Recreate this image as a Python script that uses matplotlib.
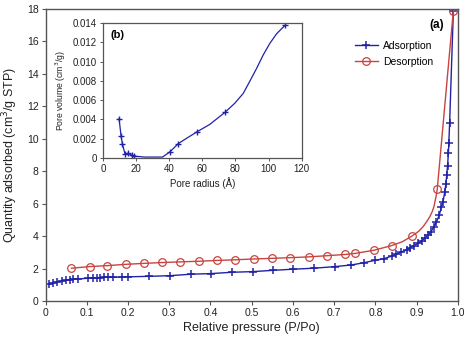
import matplotlib
matplotlib.use("Agg")
import matplotlib.pyplot as plt
import numpy as np

plt.rcParams['font.family'] = ['Liberation Sans', 'DejaVu Sans']

# Adsorption branch (relative pressure, quantity adsorbed)
ads_p = [0.009, 0.019, 0.029, 0.039, 0.049, 0.059, 0.067, 0.080, 0.102, 0.116,
         0.124, 0.132, 0.142, 0.152, 0.163, 0.185, 0.200, 0.252, 0.302, 0.352,
         0.402, 0.452, 0.502, 0.552, 0.601, 0.651, 0.702, 0.742, 0.772, 0.800,
         0.821, 0.841, 0.851, 0.863, 0.876, 0.885, 0.893, 0.904, 0.912, 0.920,
         0.928, 0.935, 0.942, 0.948, 0.955, 0.960, 0.964, 0.968, 0.971, 0.973,
         0.975, 0.977, 0.978, 0.980, 0.989]
ads_q = [1.03, 1.11, 1.19, 1.23, 1.28, 1.32, 1.35, 1.36, 1.40, 1.42,
         1.44, 1.44, 1.46, 1.46, 1.46, 1.48, 1.49, 1.52, 1.56, 1.65,
         1.69, 1.77, 1.81, 1.89, 1.96, 2.02, 2.12, 2.22, 2.36, 2.51,
         2.61, 2.78, 2.88, 3.02, 3.15, 3.29, 3.40, 3.56, 3.70, 3.87,
         4.07, 4.28, 4.59, 4.86, 5.31, 5.78, 6.13, 6.69, 7.20, 7.78,
         8.35, 9.12, 9.73, 10.97, 17.90]

# Desorption branch: measured points
des_p = [0.063, 0.107, 0.150, 0.195, 0.240, 0.283, 0.327, 0.372, 0.416, 0.460,
         0.505, 0.550, 0.594, 0.638, 0.682, 0.727, 0.750, 0.797, 0.840, 0.888,
         0.950, 0.989]
des_q = [2.02, 2.12, 2.18, 2.26, 2.32, 2.39, 2.39, 2.45, 2.51, 2.53,
         2.59, 2.63, 2.67, 2.73, 2.80, 2.88, 2.94, 3.15, 3.40, 3.99,
         6.89, 17.90]
# Desorption branch: traced fitted curve
des_curve_p = [0.063, 0.107, 0.150, 0.195, 0.240, 0.283, 0.327, 0.372, 0.416,
               0.460, 0.505, 0.550, 0.594, 0.638, 0.682, 0.727, 0.750, 0.797,
               0.840, 0.865, 0.888, 0.905, 0.916, 0.925, 0.932, 0.938, 0.942,
               0.947, 0.950, 0.989]
des_curve_q = [2.02, 2.12, 2.18, 2.26, 2.32, 2.37, 2.41, 2.45, 2.50,
               2.54, 2.59, 2.63, 2.67, 2.72, 2.79, 2.87, 2.93, 3.13,
               3.42, 3.65, 3.99, 4.30, 4.59, 4.92, 5.20, 5.52, 5.82,
               6.44, 6.89, 17.90]

# Pore size distribution: marked points
psd_r = [9.7, 10.9, 11.7, 13.3, 15.3, 17.3, 18.7, 40.5, 45.5, 56.6, 73.7, 110.2]
psd_v = [0.0041, 0.0023, 0.0015, 0.0004, 0.0005, 0.0003, 0.0002,
         0.00065, 0.0015, 0.0027, 0.00474, 0.0138]
# Pore size distribution: traced curve
curve_r = [9.7, 10.9, 11.7, 13.3, 15.3, 17.3, 18.7, 25.0, 36.0, 40.5, 45.5,
           51.0, 56.6, 64.6, 73.7, 79.7, 84.7, 88.8, 92.8, 96.8, 100.8,
           104.9, 107.8, 110.2]
curve_v = [0.0041, 0.0023, 0.0015, 0.0004, 0.0005, 0.0003, 0.0002, 0.0001,
           0.0001, 0.00065, 0.0015, 0.0021, 0.0027, 0.0035, 0.00474, 0.0057,
           0.0067, 0.0080, 0.0093, 0.0107, 0.0119, 0.0129, 0.0134, 0.0138]

blue = '#2222a6'
red = '#c84440'
spine_c = '#555555'
text_c = '#222222'

fig = plt.figure(figsize=(4.74, 3.38), dpi=100)
ax = fig.add_axes([0.096, 0.1095, 0.870, 0.864])

ax.plot(ads_p, ads_q, color=blue, lw=1.0, marker='+', ms=6, mew=1.1,
        label='Adsorption')
ax.plot(des_curve_p, des_curve_q, color=red, lw=1.0)
ax.plot(des_p, des_q, ls='none', marker='o', ms=5.5, mfc='none',
        mec=red, mew=0.9)
# legend proxy for the desorption branch (line + marker)
ax.plot([], [], color=red, lw=1.0, marker='o', ms=5.5, mfc='none', mec=red,
        mew=0.9, label='Desorption')

ax.set_xlim(0, 1.0)
ax.set_ylim(0, 18)
ax.set_xticks(np.arange(0, 1.01, 0.1))
ax.set_xticklabels(['0'] + [f'{v:.1f}' for v in np.arange(0.1, 1.01, 0.1)])
ax.set_yticks(range(0, 19, 2))
ax.tick_params(direction='out', length=3, width=0.8, labelsize=7.5,
               color=spine_c, labelcolor=text_c, pad=2)
for s in ax.spines.values():
    s.set_color(spine_c)
    s.set_linewidth(1.0)
ax.set_xlabel('Relative pressure (P/Po)', fontsize=9, color=text_c, labelpad=3)
ax.set_ylabel('Quantity adsorbed (cm$^3$/g STP)', fontsize=9, color=text_c,
              labelpad=5)
ax.text(0.967, 0.965, '(a)', transform=ax.transAxes, fontsize=8.5,
        fontweight='bold', ha='right', va='top')
ax.legend(loc='upper right', bbox_to_anchor=(0.950, 0.905), frameon=False,
          fontsize=7.5, handlelength=2.2, handletextpad=0.5,
          labelspacing=0.55, borderaxespad=0)

# Inset: pore size distribution
ins = fig.add_axes([0.2173, 0.5325, 0.419, 0.399])
ins.plot(curve_r, curve_v, color=blue, lw=0.9)
ins.plot(psd_r, psd_v, ls='none', color=blue, marker='+', ms=5, mew=1.0)
ins.set_xlim(0, 120)
ins.set_ylim(0, 0.014)
ins.set_xticks(range(0, 121, 20))
ins.set_yticks(np.arange(0, 0.0141, 0.002))
ins.set_yticklabels(['0'] + [f'{v:.3f}' for v in np.arange(0.002, 0.0141, 0.002)])
ins.tick_params(direction='out', length=2.5, width=0.7, labelsize=7,
                color=spine_c, labelcolor=text_c, pad=2)
for s in ins.spines.values():
    s.set_color(spine_c)
    s.set_linewidth(0.9)
ins.set_xlabel('Pore radius (Å)', fontsize=7, color=text_c, labelpad=2)
ins.set_ylabel('Pore volume (cm$^3$/g)', fontsize=6.2, color=text_c, labelpad=3)
ins.text(0.04, 0.95, '(b)', transform=ins.transAxes, fontsize=8,
         fontweight='bold', ha='left', va='top')

fig.savefig('out.png', dpi=100)
